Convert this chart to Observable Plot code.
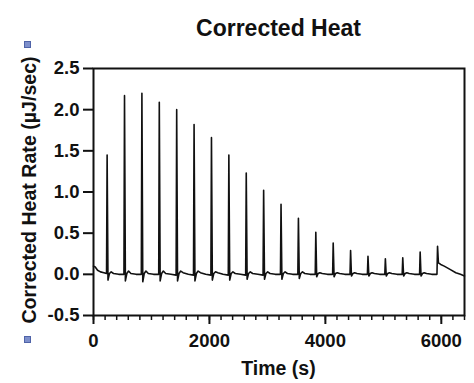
<!DOCTYPE html>
<html><head><meta charset="utf-8">
<script src="https://cdn.jsdelivr.net/npm/d3@7"></script>
<script src="https://cdn.jsdelivr.net/npm/@observablehq/plot@0.6"></script>
<style>
body{margin:0;background:#fff;font-family:"Liberation Sans",Arial,Helvetica,sans-serif;color:#111;}
#wrap{position:relative;width:474px;height:383px;overflow:hidden;background:#fff;}
#title{position:absolute;left:93px;width:371px;top:14px;text-align:center;font-weight:bold;font-size:23px;line-height:28px;}
#chart{position:absolute;left:0;top:50px;}
#ylab{position:absolute;left:29px;top:190px;transform:translate(-50%,-50%) rotate(-90deg);white-space:nowrap;font-weight:bold;font-size:19.6px;line-height:22px;}
#xlab{position:absolute;left:93px;width:371px;top:357px;text-align:center;font-weight:bold;font-size:19.5px;line-height:22px;}
.sq{position:absolute;width:5px;height:5px;background:#7d8fcb;border:1px solid #4f63a8;}
</style>
</head><body>
<div id="wrap">
  <div id="title"></div>
  <div id="chart"></div>
  <div id="ylab"></div>
  <div id="xlab"></div>
  <div class="sq" style="left:24px;top:41px"></div>
  <div class="sq" style="left:24px;top:336px"></div>
</div>
<script>
const titleText = "Corrected Heat";
const xLabel = "Time (s)";
const yLabel = "Corrected Heat Rate (µJ/sec)";
const xDomain = [0, 6400];
const yDomain = [-0.5, 2.5];
const xTicks = [0, 2000, 4000, 6000];
const xMinorTicks = [0,200,400,600,800,1000,1200,1400,1600,1800,2000,2200,2400,2600,2800,3000,3200,3400,3600,3800,4000,4200,4400,4600,4800,5000,5200,5400,5600,5800,6000,6200,6400];
const yTicks = [-0.5, 0.0, 0.5, 1.0, 1.5, 2.0, 2.5];

const timeS = [
  0, 30, 70, 120, 180, 225,
  235, 250, 275, 305, 345, 435, 525,
  535, 550, 575, 605, 645, 735, 825,
  835, 850, 875, 905, 945, 1035, 1125,
  1135, 1150, 1175, 1205, 1245, 1335, 1425,
  1435, 1450, 1475, 1505, 1545, 1635, 1725,
  1735, 1750, 1775, 1805, 1845, 1935, 2025,
  2035, 2050, 2075, 2105, 2145, 2235, 2325,
  2335, 2350, 2375, 2405, 2445, 2535, 2625,
  2635, 2650, 2675, 2705, 2745, 2835, 2925,
  2935, 2950, 2975, 3005, 3045, 3135, 3225,
  3235, 3250, 3275, 3305, 3345, 3435, 3525,
  3535, 3550, 3575, 3605, 3645, 3735, 3825,
  3835, 3850, 3875, 3905, 3945, 4035, 4125,
  4135, 4150, 4175, 4205, 4245, 4335, 4425,
  4435, 4450, 4475, 4505, 4545, 4635, 4725,
  4735, 4750, 4775, 4805, 4845, 4935, 5025,
  5035, 5050, 5075, 5105, 5145, 5235, 5325,
  5335, 5350, 5375, 5405, 5445, 5535, 5625,
  5635, 5650, 5675, 5705, 5745, 5835, 5925,
  5935, 5950, 5990, 6050, 6150, 6250, 6330, 6400
];
const heatRate = [
  0.10, 0.09, 0.05, 0.03, 0.02, 0.01,
  1.45, -0.07, 0.01, 0.03, 0.01, 0.00, 0.00,
  2.17, -0.08, 0.01, 0.04, 0.01, 0.00, 0.00,
  2.20, -0.09, 0.01, 0.04, 0.01, 0.00, 0.00,
  2.09, -0.08, 0.01, 0.04, 0.01, 0.00, -0.01,
  2.00, -0.08, 0.01, 0.04, 0.02, 0.00, -0.01,
  1.82, -0.08, 0.01, 0.04, 0.02, 0.00, -0.01,
  1.66, -0.07, 0.01, 0.03, 0.02, 0.00, -0.01,
  1.45, -0.07, 0.01, 0.03, 0.01, 0.00, -0.01,
  1.23, -0.06, 0.01, 0.03, 0.01, 0.00, -0.01,
  1.02, -0.06, 0.01, 0.03, 0.01, 0.00, 0.00,
  0.85, -0.06, 0.01, 0.03, 0.01, 0.00, 0.00,
  0.68, -0.05, 0.01, 0.03, 0.01, 0.00, 0.00,
  0.51, -0.03, 0.01, 0.02, 0.01, 0.00, 0.00,
  0.38, -0.03, 0.01, 0.02, 0.01, 0.00, 0.00,
  0.29, -0.02, 0.01, 0.02, 0.01, 0.00, 0.00,
  0.22, -0.02, 0.01, 0.02, 0.01, 0.00, 0.00,
  0.19, -0.02, 0.01, 0.02, 0.01, 0.00, 0.00,
  0.20, -0.02, 0.01, 0.02, 0.01, 0.00, 0.00,
  0.27, -0.02, 0.01, 0.02, 0.01, 0.00, 0.00,
  0.34, 0.14, 0.12, 0.10, 0.06, 0.02, 0.00, -0.02
];

const data = timeS.map((t, i) => ({t, v: heatRate[i]}));

document.getElementById("title").textContent = titleText;
document.getElementById("xlab").textContent = xLabel;
document.getElementById("ylab").textContent = yLabel;

const font = '"Liberation Sans", Arial, Helvetica, sans-serif';
const plot = Plot.plot({
  width: 474, height: 333,
  marginTop: 18, marginBottom: 68, marginLeft: 93, marginRight: 10,
  x: {domain: xDomain},
  y: {domain: yDomain},
  style: {fontFamily: font, fontSize: "18.5px", fontWeight: "bold", color: "#111", background: "white", overflow: "visible"},
  marks: [
    Plot.frame({stroke: "#111", strokeWidth: 2}),
    Plot.axisY({ticks: yTicks, tickFormat: d => d.toFixed(1), tickSize: 10, tickPadding: 4, strokeWidth: 2, label: null}),
    Plot.axisX({ticks: xMinorTicks, tickSize: 5, tickFormat: () => "", strokeWidth: 1.5, label: null}),
    Plot.axisX({ticks: xTicks, tickSize: 9, tickPadding: 9, strokeWidth: 2, tickFormat: d => String(d), label: null}),
    Plot.line(data, {x: "t", y: "v", stroke: "#111", strokeWidth: 1.6})
  ]
});
document.getElementById("chart").appendChild(plot);
</script>
</body></html>
